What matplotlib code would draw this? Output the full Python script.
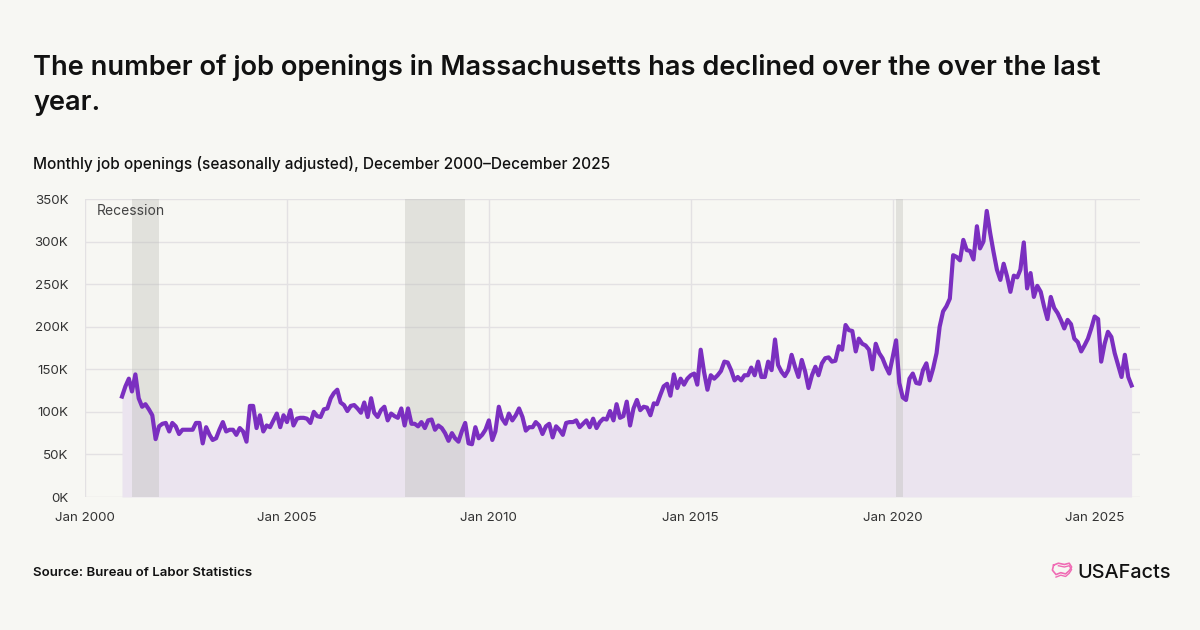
import numpy as np
import pandas as pd
import matplotlib
matplotlib.use('Agg')
import matplotlib.pyplot as plt

plt.rcParams['font.family'] = ['Inter', 'DejaVu Sans']

# monthly job openings in thousands, Dec 2000 - Dec 2025
start = '2000-12-01'
openings = [
    118,
    130, 139, 124, 144, 116, 106, 109, 103, 96, 68, 83, 86,      # 2001
    87, 77, 87, 83, 74, 79, 79, 79, 79, 87, 87, 63,               # 2002
    82, 73, 67, 69, 79, 88, 77, 79, 79, 73, 81, 77,               # 2003
    65, 107, 107, 81, 96, 77, 84, 82, 90, 98, 82, 96,             # 2004
    88, 102, 84, 92, 93, 93, 92, 87, 100, 95, 94, 103,            # 2005
    104, 116, 122, 126, 111, 108, 101, 107, 108, 104, 99, 111,    # 2006
    94, 116, 99, 94, 102, 106, 90, 98, 95, 93, 104, 84,           # 2007
    104, 86, 86, 83, 88, 81, 90, 91, 79, 84, 81, 75,              # 2008
    66, 75, 69, 65, 77, 87, 63, 62, 82, 69, 73, 79,               # 2009
    90, 67, 77, 106, 92, 86, 98, 90, 96, 104, 94, 78,             # 2010
    82, 82, 88, 84, 74, 83, 86, 70, 83, 79, 73, 87,               # 2011
    88, 88, 90, 82, 86, 90, 82, 92, 81, 88, 92, 91,               # 2012
    101, 90, 109, 93, 95, 112, 84, 104, 114, 102, 106, 105,       # 2013
    96, 110, 109, 120, 130, 133, 119, 144, 128, 139, 132, 139,    # 2014
    143, 145, 132, 173, 147, 126, 143, 139, 143, 148, 159, 158,   # 2015
    149, 137, 141, 137, 143, 143, 152, 143, 159, 141, 141, 159,   # 2016
    149, 185, 155, 147, 142, 149, 167, 153, 141, 161, 147, 128,   # 2017
    143, 153, 143, 157, 163, 164, 159, 160, 177, 173, 202, 196,   # 2018
    195, 171, 186, 180, 178, 173, 150, 180, 169, 163, 153, 145,   # 2019
    164, 184, 134, 117, 114, 139, 145, 134, 133, 149, 157, 137,   # 2020
    151, 169, 200, 218, 224, 233, 284, 282, 278, 302, 290, 289,   # 2021
    279, 318, 292, 300, 336, 310, 288, 267, 255, 274, 259, 241,   # 2022
    260, 258, 267, 299, 245, 263, 235, 248, 241, 224, 209, 235,   # 2023
    222, 216, 208, 198, 208, 203, 186, 182, 171, 178, 186, 198,   # 2024
    212, 209, 159, 180, 194, 188, 169, 155, 141, 167, 141, 131,   # 2025
]
recessions = [('2001-03-01', '2001-11-01'),
              ('2007-12-01', '2009-06-01'),
              ('2020-02-01', '2020-04-01')]
tick_years = [2000, 2005, 2010, 2015, 2020, 2025]

months = pd.date_range(start, periods=len(openings), freq='MS')
vals = np.array(openings)

bg = '#f7f7f3'
purple = '#7b2fc0'

fig = plt.figure(figsize=(12, 6.3), dpi=100, facecolor=bg)
ax = fig.add_axes([0.0708, 0.2111, 0.8792, 0.473])
ax.set_facecolor(bg)

ax.fill_between(months, vals, 0, color='#ebe4ef', zorder=1, lw=0)
for a, b in recessions:
    ax.axvspan(pd.Timestamp(a), pd.Timestamp(b), color='#b9b9b3', alpha=0.35, lw=0, zorder=2)
ax.plot(months, vals, color=purple, lw=3.0, zorder=3)

ax.set_ylim(0, 350)
ax.set_xlim(pd.Timestamp('2000-01-01'), pd.Timestamp('2026-02-15'))
ax.set_yticks(np.arange(0, 351, 50))
ax.set_yticklabels(['%dK' % v for v in range(0, 351, 50)])
ax.set_xticks([pd.Timestamp('%d-01-01' % y) for y in tick_years])
ax.set_xticklabels(['Jan %d' % y for y in tick_years])
ax.grid(True, color='#e3e1e3', lw=1, zorder=0)
ax.set_axisbelow(True)
for s in ax.spines.values():
    s.set_visible(False)
ax.tick_params(length=0, labelsize=9.6, colors='#333333')
ax.tick_params(axis='x', pad=11)
ax.tick_params(axis='y', pad=12)

ax.text(pd.Timestamp('2000-04-20'), 336, 'Recession', fontsize=10, color='#444444',
        va='center', ha='left', zorder=4)

title_kw = dict(fontsize=19.6, fontweight='semibold', color='#111111', va='baseline')
fig.text(0.0275, 0.881, 'The number of job openings in Massachusetts has declined over the over the last',
         **title_kw)
fig.text(0.0275, 0.825, 'year.', **title_kw)
fig.text(0.0275, 0.732, 'Monthly job openings (seasonally adjusted), December 2000\u2013December 2025',
         fontsize=11.1, fontweight='medium', color='#111111', va='baseline')
fig.text(0.0275, 0.086, 'Source: Bureau of Labor Statistics', fontsize=9.5,
         fontweight='semibold', color='#111111', va='baseline')
fig.text(0.898, 0.083, 'USAFacts', fontsize=14.3, fontweight='medium', color='#111111', va='baseline')

# small pink map mark next to the logo text
mx = np.array([0.878, 0.882, 0.887, 0.891, 0.893, 0.891, 0.888, 0.884, 0.880, 0.877, 0.878])
my = np.array([0.103, 0.106, 0.104, 0.106, 0.100, 0.094, 0.089, 0.091, 0.088, 0.095, 0.103])
fig.add_artist(plt.Line2D(mx, my, color='#f06bb4', lw=1.2, transform=fig.transFigure))
fig.add_artist(plt.Line2D(mx[1:9], my[1:9] - 0.004, color='#f06bb4', lw=1.0, transform=fig.transFigure))

fig.savefig('out.png', dpi=100, facecolor=bg)
